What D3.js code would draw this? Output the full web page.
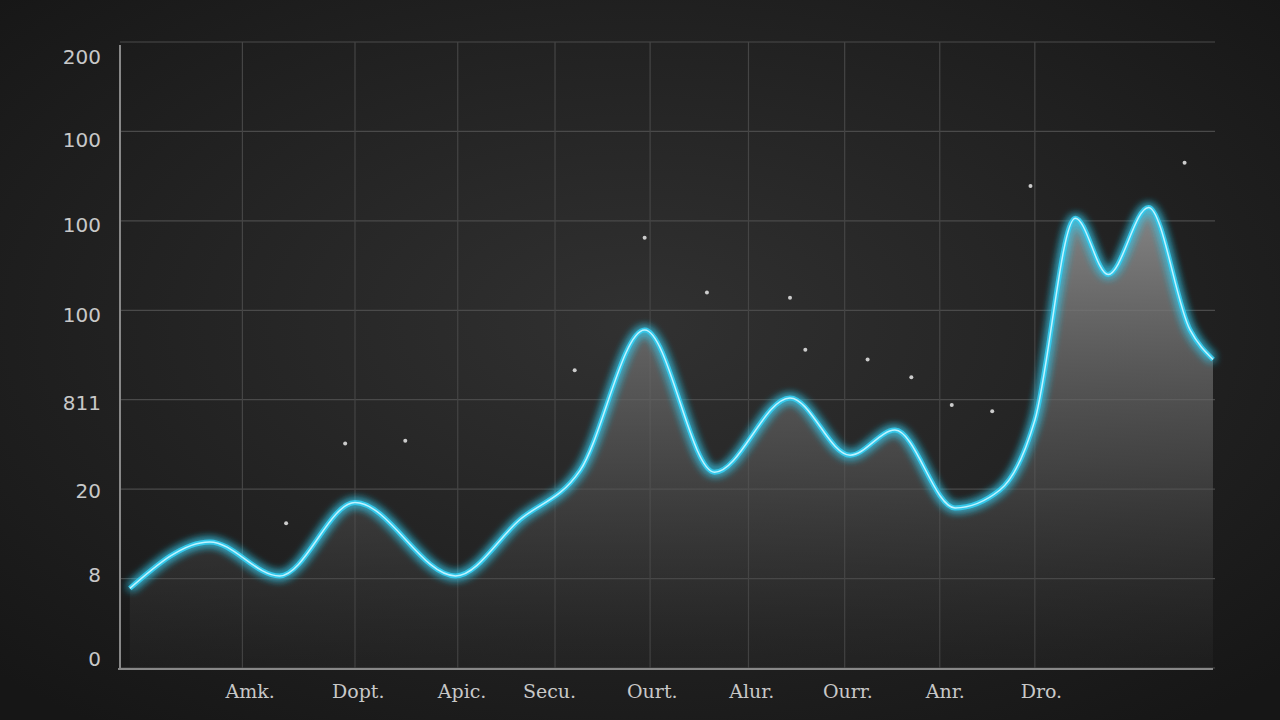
<!DOCTYPE html>
<html><head><meta charset="utf-8">
<script src="https://cdn.jsdelivr.net/npm/d3@7"></script>
<style>body{margin:0;background:#1a1a1a}svg{display:block}</style>
</head><body><svg id="c" width="1280" height="720"></svg>
<script>
const yTickLabels=["0","8","20","811","100","100","100","200"];
const yTickVals=[0,1,2,3,4,5,6,7];
const xLabels=["Amk.","Dopt.","Apic.","Secu.","Ourt.","Alur.","Ourr.","Anr.","Dro."];
const xLabelPos=[11.9,21.8,31.3,39.3,48.7,57.8,66.6,75.5,84.3];
const xGrid=[11.2,21.5,30.9,39.8,48.5,57.5,66.3,75.0,83.7];
const lineX=[0.9,8.2,14.6,21.5,30.7,36.6,42.1,48.0,54.4,61.3,66.8,70.9,76.4,80.5,83.7,87.4,90.4,94.1,97.9,100];
const lineY=[0.89,1.41,1.03,1.85,1.03,1.66,2.21,3.78,2.19,3.02,2.38,2.66,1.79,1.99,2.77,5.03,4.40,5.15,3.78,3.45];
const dotX=[48.0,53.7,61.3,62.7,68.4,72.4,76.1,79.8,83.3,97.4,41.6,26.1,20.6,15.2];
const dotY=[4.81,4.20,4.14,3.56,3.45,3.25,2.94,2.87,5.39,5.65,3.33,2.54,2.51,1.62];
const labelShift=[-8,-2,3,5,6,6,10,16];

const svg=d3.select("#c");
const defs=svg.append("defs");
const bg=defs.append("radialGradient").attr("id","bg").attr("cx","50%").attr("cy","45%").attr("r","70%");
bg.append("stop").attr("offset","0%").attr("stop-color","#313131");
bg.append("stop").attr("offset","100%").attr("stop-color","#161616");
const ag=defs.append("linearGradient").attr("id","ag").attr("x1",0).attr("x2",0).attr("y1",0).attr("y2",1);
ag.append("stop").attr("offset","0%").attr("stop-color","#8a8a8a").attr("stop-opacity",0.95);
ag.append("stop").attr("offset","55%").attr("stop-color","#5a5a5a").attr("stop-opacity",0.6);
ag.append("stop").attr("offset","100%").attr("stop-color","#333").attr("stop-opacity",0.2);
const gl=defs.append("filter").attr("id","glow").attr("x","-20%").attr("y","-20%").attr("width","140%").attr("height","140%");
gl.append("feGaussianBlur").attr("stdDeviation",5).attr("result","b");
const m=gl.append("feMerge");m.append("feMergeNode").attr("in","b");m.append("feMergeNode").attr("in","b");m.append("feMergeNode").attr("in","SourceGraphic");

svg.append("rect").attr("width",1280).attr("height",720).attr("fill","url(#bg)");
const x=d3.scaleLinear().domain([0,100]).range([120,1213]);
const y=d3.scaleLinear().domain([0,7]).range([668,42]);

svg.append("g").selectAll("line").data(yTickVals).join("line")
 .attr("x1",120).attr("x2",1215).attr("y1",d=>y(d)).attr("y2",d=>y(d))
 .attr("stroke","#4a4a4a").attr("stroke-width",1.2);
svg.append("g").selectAll("line").data(xGrid).join("line")
 .attr("x1",d=>x(d)).attr("x2",d=>x(d)).attr("y1",42).attr("y2",668)
 .attr("stroke","#454545").attr("stroke-width",1.2);

const pts=lineX.map((v,i)=>[v,lineY[i]]);
svg.append("path").datum(pts).attr("fill","url(#ag)")
 .attr("d",d3.area().x(d=>x(d[0])).y0(y(0)).y1(d=>y(d[1])).curve(d3.curveMonotoneX));
svg.append("path").datum(pts).attr("fill","none").attr("stroke","#35c8ea").attr("stroke-width",5)
 .attr("filter","url(#glow)")
 .attr("d",d3.line().x(d=>x(d[0])).y(d=>y(d[1])).curve(d3.curveMonotoneX));
svg.append("path").datum(pts).attr("fill","none").attr("stroke","#bff3ff").attr("stroke-width",1.5)
 .attr("d",d3.line().x(d=>x(d[0])).y(d=>y(d[1])).curve(d3.curveMonotoneX));

svg.append("g").selectAll("circle").data(dotX).join("circle")
 .attr("cx",d=>x(d)).attr("cy",(d,i)=>y(dotY[i])).attr("r",2).attr("fill","#ccc");

svg.append("line").attr("x1",120).attr("x2",120).attr("y1",45).attr("y2",670).attr("stroke","#888").attr("stroke-width",2);
svg.append("line").attr("x1",118).attr("x2",1213).attr("y1",669).attr("y2",669).attr("stroke","#888").attr("stroke-width",2);

svg.append("g").selectAll("text").data(yTickVals).join("text")
 .attr("x",101).attr("y",(d,i)=>y(d)+labelShift[i]).attr("text-anchor","end").attr("dominant-baseline","middle")
 .attr("fill","#c8c8c8").attr("font-family","DejaVu Sans").attr("font-size",20)
 .text((d,i)=>yTickLabels[i]);
svg.append("g").selectAll("text").data(xLabels).join("text")
 .attr("x",(d,i)=>x(xLabelPos[i])).attr("y",698).attr("text-anchor","middle")
 .attr("fill","#c8c8c8").attr("font-family","DejaVu Serif").attr("font-size",19)
 .text(d=>d);
</script></body></html>
